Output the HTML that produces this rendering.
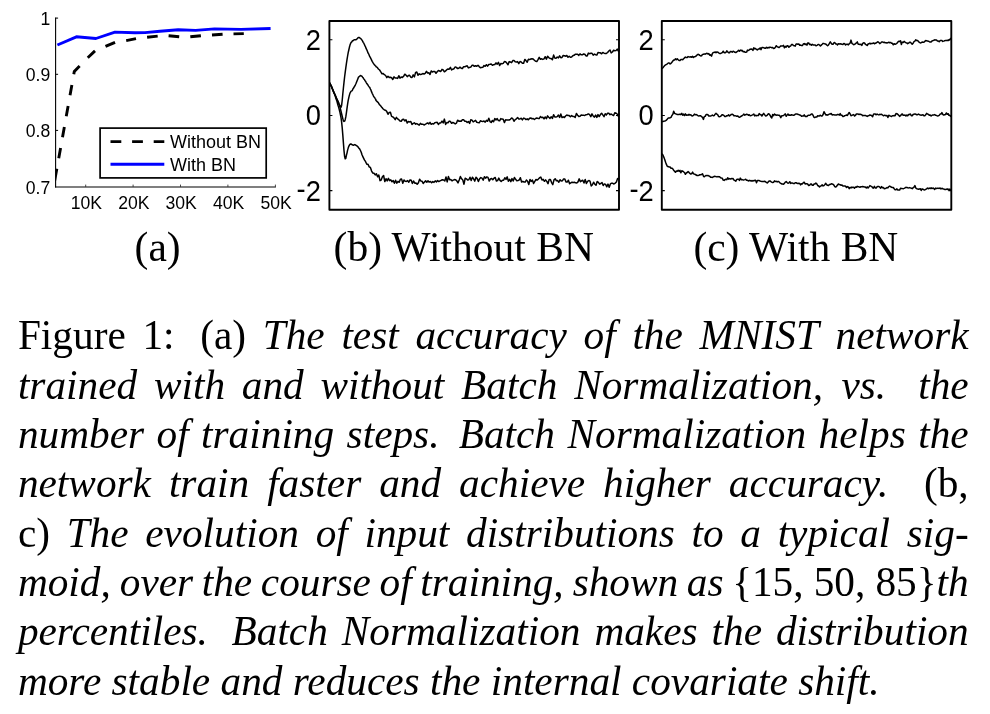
<!DOCTYPE html><html><head><meta charset="utf-8"><title>Figure 1</title><style>
html,body{margin:0;padding:0;background:#fff;}
body{width:990px;height:714px;position:relative;overflow:hidden;}
#fig{position:absolute;left:0;top:0;width:990px;height:714px;will-change:transform;}
.ln{position:absolute;left:17.9px;height:49px;font-family:'Liberation Serif', 'Times New Roman', Times, serif;font-size:41.3px;line-height:49px;color:#000;white-space:nowrap;transform-origin:0 38.6px;transform:scaleY(1.03);}.ln b{display:inline-block;height:1px;overflow:hidden;white-space:pre;font-weight:normal;vertical-align:baseline;}.ln span,.ln i{display:inline-block;}.m{font-style:normal;word-spacing:-0.005em;}
</style></head><body>
<div id="fig">
<svg width="990" height="290" viewBox="0 0 990 290" style="position:absolute;left:0;top:0">
<g fill="none" stroke="#000">
<path d="M55.6,17.6 V187.5" stroke-width="1.1"/>
<path d="M55.1,187.0 H275.9" stroke-width="1.1"/>
<path d="M55.6,18.1 h2.5" stroke-width="1.0"/>
<path d="M55.6,74.3 h2.5" stroke-width="1.0"/>
<path d="M55.6,130.4 h2.5" stroke-width="1.0"/>
<path d="M85.7,187.0 v-2.4" stroke-width="0.9" stroke="#333"/>
<path d="M133.1,187.0 v-2.4" stroke-width="0.9" stroke="#333"/>
<path d="M180.5,187.0 v-2.4" stroke-width="0.9" stroke="#333"/>
<path d="M227.9,187.0 v-2.4" stroke-width="0.9" stroke="#333"/>
<path d="M275.4,187.0 v-2.4" stroke-width="0.9" stroke="#333"/>
</g>
<clipPath id="ca"><rect x="55.4" y="10" width="230" height="177"/></clipPath>
<path d="M54.72,180.60 L56.83,168.84 M58.74,158.20 L60.59,147.90 M62.51,137.20 L64.36,126.90 M66.26,116.30 L68.13,105.90 M70.03,95.30 L71.88,84.96 M73.79,74.35 L74.3,71.5 L79.64,66.1 M87.75,57.75 L95.00,50.90 M105.50,46.40 L115.05,42.30 M126.20,40.65 L136.00,38.65 M147.10,37.30 L157.70,36.10 M168.60,35.75 L179.20,36.70 M190.30,36.80 L200.90,35.75 M212.00,35.00 L222.60,34.20 M233.50,33.90 L243.80,33.60" fill="none" stroke="#000" stroke-width="2.9" stroke-linejoin="miter" clip-path="url(#ca)"/>
<polyline points="57.4,45.0 76.4,36.8 95.9,38.5 115.0,32.1 135.0,32.7 145.0,32.6 160.0,31.3 178.2,29.7 195.6,30.4 214.5,28.9 241.0,29.4 270.6,28.5" fill="none" stroke="#0000ff" stroke-width="2.9" stroke-linejoin="round"/>
<rect x="100.1" y="128.1" width="166.1" height="49.8" fill="#fff" stroke="#000" stroke-width="1.7"/>
<path d="M110.5,141.65 h10.8 m10.8,0 h10.8 m10.8,0 h10.6" stroke="#000" stroke-width="2.9" fill="none"/>
<path d="M110.5,164.3 H164.3" stroke="#0000ff" stroke-width="2.9" fill="none"/>
<g font-family="'Liberation Sans', Arial, Helvetica, sans-serif" font-size="18" fill="#000">
<text transform="translate(170.0,147.9) scale(1,1.02)">Without BN</text>
<text transform="translate(170.0,170.5) scale(1,1.02)">With BN</text>
</g>
<g font-family="'Liberation Sans', Arial, Helvetica, sans-serif" font-size="17.6" fill="#000" text-anchor="end">
<text transform="translate(50.2,24.9) scale(1,1.035)">1</text>
<text transform="translate(50.2,80.9) scale(1,1.035)">0.9</text>
<text transform="translate(50.2,137.0) scale(1,1.035)">0.8</text>
<text transform="translate(50.2,193.6) scale(1,1.035)">0.7</text>
</g>
<g font-family="'Liberation Sans', Arial, Helvetica, sans-serif" font-size="17.6" fill="#000" text-anchor="middle">
<text transform="translate(86.4,208.7) scale(1,1.035)">10K</text>
<text transform="translate(133.8,208.7) scale(1,1.035)">20K</text>
<text transform="translate(181.20000000000002,208.7) scale(1,1.035)">30K</text>
<text transform="translate(228.6,208.7) scale(1,1.035)">40K</text>
<text transform="translate(276.09999999999997,208.7) scale(1,1.035)">50K</text>
</g>
<rect x="329.4" y="21.0" width="289.6" height="188.7" fill="none" stroke="#000" stroke-width="1.9" stroke-linejoin="round"/>
<g stroke="#000" stroke-width="1.1" fill="none">
<path d="M329.4,39.7 h3.0 M619.0,39.7 h-3.0"/>
<path d="M329.4,115.5 h3.0 M619.0,115.5 h-3.0"/>
<path d="M329.4,190.6 h3.0 M619.0,190.6 h-3.0"/>
</g>
<polyline points="329.6,83.2 330.2,83.7 330.8,85.0 331.4,86.1 332.0,87.9 332.6,89.2 333.2,90.6 333.8,92.1 334.4,93.6 335.0,94.7 335.6,96.1 336.2,97.5 336.8,98.9 337.4,100.2 338.0,101.3 338.6,102.6 339.2,104.1 339.8,105.5 340.4,106.5 341.0,107.2 341.6,105.4 342.2,100.5 342.8,94.0 343.4,88.0 344.0,82.3 344.6,77.0 345.2,72.4 345.8,67.8 346.4,63.7 347.0,59.7 347.6,56.0 348.2,52.7 348.8,50.0 349.4,47.3 350.0,45.1 350.6,43.4 351.2,42.4 351.8,41.9 352.4,40.8 353.0,40.7 353.6,40.1 354.2,39.8 354.8,39.8 355.4,39.7 356.0,39.7 356.6,39.1 357.2,38.8 357.8,38.1 358.4,37.4 359.0,37.4 359.6,37.9 360.2,38.2 360.8,38.7 361.4,39.3 362.0,40.2 362.6,41.1 363.2,42.3 363.8,43.2 364.4,44.5 365.0,45.9 365.6,47.0 366.2,48.7 366.8,49.8 367.4,51.2 368.0,52.9 368.6,53.8 369.2,55.2 369.8,56.7 370.4,57.6 371.0,58.8 371.6,60.2 372.2,61.4 372.8,62.4 373.4,63.3 374.0,64.2 374.6,64.9 375.2,65.6 375.8,66.0 376.0,66.7 377.2,67.4 378.4,69.0 379.6,70.0 380.8,71.8 382.0,73.8 383.2,73.6 384.4,74.7 385.6,75.5 386.8,77.6 388.0,76.2 389.2,77.4 390.4,77.3 391.6,77.8 392.8,79.5 394.0,76.9 395.2,78.0 396.4,78.0 397.6,78.4 398.8,75.7 400.0,78.1 401.2,77.1 402.4,77.4 403.6,76.3 404.8,74.2 406.0,75.1 407.2,76.6 408.4,75.6 409.6,75.3 410.8,77.2 412.0,77.5 413.2,74.9 414.4,76.9 415.6,72.4 416.8,72.1 418.0,75.2 419.2,73.8 420.4,74.6 421.6,74.3 422.8,73.5 424.0,74.1 425.2,73.3 426.4,71.3 427.6,73.0 428.8,72.8 430.0,74.5 431.2,70.9 432.4,72.0 433.6,71.4 434.8,71.5 436.0,73.3 437.2,71.7 438.4,70.5 439.6,71.0 440.8,71.5 442.0,69.4 443.2,70.0 444.4,71.8 445.6,70.9 446.8,69.7 448.0,69.0 449.2,69.2 450.4,67.4 451.6,70.0 452.8,69.2 454.0,68.7 455.2,66.9 456.4,67.4 457.6,68.6 458.8,68.2 460.0,67.2 461.2,68.2 462.4,68.6 463.6,66.7 464.8,66.7 466.0,66.2 467.2,65.8 468.4,67.9 469.6,67.4 470.8,67.1 472.0,65.3 473.2,65.3 474.4,66.3 475.6,65.8 476.8,66.3 478.0,65.2 479.2,66.6 480.4,67.8 481.6,67.4 482.8,67.3 484.0,65.5 485.2,66.3 486.4,64.7 487.6,66.1 488.8,64.5 490.0,64.3 491.2,64.0 492.4,65.3 493.6,64.7 494.8,64.5 496.0,62.9 497.2,64.2 498.4,62.3 499.6,65.5 500.8,63.6 502.0,63.8 503.2,63.4 504.4,61.6 505.6,61.7 506.8,63.1 508.0,64.7 509.2,61.6 510.4,62.0 511.6,62.6 512.8,60.6 514.0,60.5 515.2,61.8 516.4,62.1 517.6,61.6 518.8,63.6 520.0,61.5 521.2,62.0 522.4,63.2 523.6,63.2 524.8,59.4 526.0,60.6 527.2,62.2 528.4,59.2 529.6,59.6 530.8,59.0 532.0,58.8 533.2,58.9 534.4,60.2 535.6,61.3 536.8,61.5 538.0,59.6 539.2,57.3 540.4,59.3 541.6,58.8 542.8,59.4 544.0,58.8 545.2,56.7 546.4,59.1 547.6,56.2 548.8,57.6 550.0,58.5 551.2,58.4 552.4,59.7 553.6,55.1 554.8,58.0 556.0,58.3 557.2,57.0 558.4,57.9 559.6,55.8 560.8,57.7 562.0,57.4 563.2,55.5 564.4,55.8 565.6,56.2 566.8,55.5 568.0,57.3 569.2,56.2 570.4,57.3 571.6,57.0 572.8,55.7 574.0,55.3 575.2,54.3 576.4,54.3 577.6,54.2 578.8,55.4 580.0,53.9 581.2,54.8 582.4,54.8 583.6,53.9 584.8,54.2 586.0,55.9 587.2,55.9 588.4,53.1 589.6,53.7 590.8,53.3 592.0,53.3 593.2,55.2 594.4,54.1 595.6,54.7 596.8,55.1 598.0,52.5 599.2,52.7 600.4,52.8 601.6,53.8 602.8,52.4 604.0,53.1 605.2,53.6 606.4,53.4 607.6,52.5 608.8,51.0 610.0,50.0 611.2,52.9 612.4,52.0 613.6,50.3 614.8,50.7 616.0,50.6 617.2,49.1 618.4,51.2 618.9,49.9" fill="none" stroke="#000" stroke-width="1.5" stroke-linejoin="round"/>
<polyline points="329.6,82.9 330.2,83.9 330.8,85.1 331.4,86.5 332.0,87.9 332.6,89.3 333.2,90.7 333.8,92.3 334.4,93.5 335.0,95.1 335.6,96.2 336.2,97.8 336.8,99.1 337.4,100.4 338.0,101.6 338.6,103.5 339.2,104.6 339.8,106.5 340.4,108.8 341.0,111.3 341.6,113.8 342.2,116.3 342.8,118.6 343.4,120.9 344.0,121.4 344.6,121.1 345.2,119.7 345.8,116.9 346.4,112.8 347.0,108.4 347.6,104.2 348.2,100.4 348.8,97.6 349.4,95.1 350.0,93.1 350.6,92.0 351.2,91.1 351.8,90.9 352.4,90.2 353.0,88.8 353.6,88.1 354.2,86.9 354.8,86.0 355.4,84.8 356.0,83.5 356.6,82.0 357.2,80.5 357.8,78.9 358.4,77.4 359.0,76.8 359.6,76.2 360.2,75.8 360.8,75.5 361.4,76.1 362.0,76.3 362.6,77.2 363.2,77.8 363.8,79.0 364.4,79.5 365.0,80.7 365.6,81.3 366.2,82.5 366.8,83.6 367.4,84.1 368.0,85.1 368.6,86.1 369.2,86.9 369.8,87.6 370.4,89.0 371.0,90.2 371.6,91.9 372.2,93.3 372.8,94.5 373.4,95.8 374.0,97.0 374.6,97.5 375.2,98.6 375.8,99.5 376.0,100.5 377.2,101.6 378.4,102.8 379.6,104.8 380.8,106.0 382.0,107.6 383.2,109.0 384.4,109.9 385.6,110.2 386.8,111.6 388.0,114.3 389.2,112.4 390.4,112.2 391.6,116.4 392.8,116.9 394.0,117.9 395.2,119.6 396.4,117.4 397.6,118.9 398.8,119.7 400.0,121.0 401.2,121.2 402.4,119.5 403.6,119.3 404.8,120.9 406.0,119.7 407.2,123.0 408.4,121.6 409.6,121.9 410.8,121.5 412.0,124.5 413.2,123.4 414.4,122.8 415.6,124.2 416.8,123.6 418.0,124.4 419.2,125.2 420.4,123.4 421.6,124.3 422.8,124.2 424.0,125.0 425.2,124.3 426.4,123.7 427.6,122.9 428.8,123.9 430.0,122.4 431.2,124.3 432.4,123.6 433.6,124.1 434.8,122.8 436.0,122.4 437.2,122.3 438.4,124.5 439.6,122.9 440.8,122.9 442.0,121.1 443.2,122.9 444.4,119.1 445.6,124.4 446.8,122.6 448.0,122.8 449.2,121.1 450.4,121.5 451.6,123.3 452.8,122.4 454.0,123.0 455.2,123.9 456.4,123.2 457.6,120.2 458.8,121.2 460.0,121.0 461.2,121.2 462.4,119.8 463.6,119.8 464.8,121.2 466.0,121.3 467.2,122.5 468.4,121.5 469.6,123.4 470.8,119.7 472.0,120.1 473.2,121.9 474.4,121.2 475.6,120.4 476.8,122.3 478.0,122.6 479.2,122.8 480.4,120.8 481.6,121.2 482.8,121.4 484.0,121.1 485.2,122.1 486.4,120.4 487.6,121.3 488.8,118.3 490.0,121.6 491.2,122.5 492.4,120.5 493.6,121.7 494.8,118.6 496.0,120.0 497.2,118.6 498.4,120.6 499.6,120.8 500.8,118.6 502.0,119.1 503.2,119.3 504.4,122.6 505.6,119.7 506.8,119.9 508.0,120.1 509.2,120.0 510.4,119.3 511.6,118.0 512.8,118.7 514.0,121.2 515.2,119.6 516.4,118.8 517.6,117.6 518.8,119.0 520.0,119.0 521.2,118.2 522.4,119.9 523.6,118.1 524.8,118.5 526.0,119.6 527.2,118.8 528.4,119.8 529.6,118.2 530.8,117.9 532.0,118.8 533.2,118.5 534.4,119.5 535.6,118.5 536.8,118.0 538.0,118.4 539.2,118.6 540.4,116.5 541.6,117.6 542.8,117.3 544.0,118.9 545.2,117.0 546.4,118.6 547.6,115.9 548.8,117.2 550.0,118.4 551.2,116.8 552.4,118.4 553.6,114.7 554.8,117.0 556.0,117.0 557.2,116.6 558.4,115.0 559.6,117.4 560.8,114.0 562.0,117.6 563.2,116.8 564.4,117.5 565.6,116.0 566.8,115.0 568.0,115.6 569.2,115.6 570.4,116.7 571.6,115.6 572.8,116.4 574.0,116.4 575.2,117.4 576.4,113.5 577.6,115.2 578.8,116.4 580.0,116.3 581.2,114.9 582.4,115.2 583.6,115.3 584.8,115.5 586.0,114.7 587.2,114.5 588.4,113.9 589.6,114.7 590.8,116.6 592.0,113.9 593.2,116.0 594.4,117.1 595.6,115.1 596.8,117.4 598.0,114.6 599.2,116.5 600.4,114.6 601.6,113.2 602.8,114.9 604.0,116.6 605.2,113.8 606.4,114.9 607.6,113.2 608.8,113.3 610.0,114.7 611.2,114.0 612.4,114.8 613.6,115.5 614.8,112.7 616.0,113.2 617.2,114.0 618.4,116.5 618.9,113.5" fill="none" stroke="#000" stroke-width="1.5" stroke-linejoin="round"/>
<polyline points="329.6,82.8 330.2,83.9 330.8,85.5 331.4,86.4 332.0,88.0 332.6,89.5 333.2,91.0 333.8,92.8 334.4,93.6 335.0,95.1 335.6,97.2 336.2,99.2 336.8,100.7 337.4,103.0 338.0,105.3 338.6,107.1 339.2,109.4 339.8,111.7 340.4,114.5 341.0,117.5 341.6,121.8 342.2,127.7 342.8,134.9 343.4,142.9 344.0,150.6 344.6,156.3 345.2,158.8 345.8,158.3 346.4,155.3 347.0,153.1 347.6,150.1 348.2,148.1 348.8,146.3 349.4,145.1 350.0,144.3 350.6,144.0 351.2,144.0 351.8,144.6 352.4,144.8 353.0,145.2 353.6,145.2 354.2,144.8 354.8,144.6 355.4,144.9 356.0,145.3 356.6,145.7 357.2,146.2 357.8,146.6 358.4,147.5 359.0,148.3 359.6,148.9 360.2,150.0 360.8,151.3 361.4,152.7 362.0,154.8 363.2,157.4 364.4,159.9 365.6,161.7 366.8,164.3 368.0,164.2 369.2,166.9 370.4,167.5 371.6,171.1 372.8,173.0 374.0,173.3 375.2,174.9 376.4,173.7 377.6,176.8 378.8,175.0 380.0,180.7 381.2,180.0 382.4,176.7 383.6,175.5 384.8,181.6 386.0,178.7 387.2,180.9 388.4,178.4 389.6,180.6 390.8,179.8 392.0,181.8 393.2,180.6 394.4,183.3 395.6,180.2 396.8,183.2 398.0,181.4 399.2,182.3 400.4,179.3 401.6,179.1 402.8,183.3 404.0,180.0 405.2,181.3 406.4,181.4 407.6,180.6 408.8,182.2 410.0,179.9 411.2,180.3 412.4,183.4 413.6,181.0 414.8,183.2 416.0,183.1 417.2,184.3 418.4,182.7 419.6,179.3 420.8,180.9 422.0,181.2 423.2,183.5 424.4,182.1 425.6,180.9 426.8,182.1 428.0,180.9 429.2,182.1 430.4,181.5 431.6,182.8 432.8,181.6 434.0,182.4 435.2,180.9 436.4,181.9 437.6,180.5 438.8,181.6 440.0,180.9 441.2,180.3 442.4,179.8 443.6,180.0 444.8,181.0 446.0,176.9 447.2,181.9 448.4,176.6 449.6,179.7 450.8,179.4 452.0,180.9 453.2,180.1 454.4,179.6 455.6,179.7 456.8,180.9 458.0,182.9 459.2,180.0 460.4,176.5 461.6,178.8 462.8,180.0 464.0,184.2 465.2,178.2 466.4,178.8 467.6,180.1 468.8,179.8 470.0,177.3 471.2,180.6 472.4,177.3 473.6,178.8 474.8,181.1 476.0,177.2 477.2,178.6 478.4,181.5 479.6,178.7 480.8,177.6 482.0,178.2 483.2,180.2 484.4,176.7 485.6,178.1 486.8,176.9 488.0,177.4 489.2,181.0 490.4,179.0 491.6,178.5 492.8,179.8 494.0,178.2 495.2,177.5 496.4,181.0 497.6,180.6 498.8,178.1 500.0,180.4 501.2,181.5 502.4,180.2 503.6,180.2 504.8,177.7 506.0,179.4 507.2,176.9 508.4,181.2 509.6,179.4 510.8,181.6 512.0,178.6 513.2,181.0 514.4,177.5 515.6,179.3 516.8,180.7 518.0,180.5 519.2,180.0 520.4,177.7 521.6,182.1 522.8,181.3 524.0,182.0 525.2,182.1 526.4,180.0 527.6,181.2 528.8,184.5 530.0,179.5 531.2,181.4 532.4,180.1 533.6,183.5 534.8,181.3 536.0,179.5 537.2,180.1 538.4,179.0 539.6,177.7 540.8,177.1 542.0,180.0 543.2,179.4 544.4,181.3 545.6,179.9 546.8,181.4 548.0,183.7 549.2,179.4 550.4,179.4 551.6,182.6 552.8,184.6 554.0,179.9 555.2,178.7 556.4,180.8 557.6,180.6 558.8,182.3 560.0,179.7 561.2,180.9 562.4,180.8 563.6,178.9 564.8,179.0 566.0,181.9 567.2,182.1 568.4,180.2 569.6,183.7 570.8,182.9 572.0,182.2 573.2,182.5 574.4,182.2 575.6,182.8 576.8,183.0 578.0,181.9 579.2,178.9 580.4,181.7 581.6,180.8 582.8,180.3 584.0,183.0 585.2,179.5 586.4,183.5 587.6,181.3 588.8,180.5 590.0,181.1 591.2,185.9 592.4,184.7 593.6,182.2 594.8,184.2 596.0,185.3 597.2,181.5 598.4,182.4 599.6,184.2 600.8,183.5 602.0,182.5 603.2,185.5 604.4,183.9 605.6,184.4 606.8,186.8 608.0,184.1 609.2,187.3 610.4,183.9 611.6,183.2 612.8,183.3 614.0,184.0 615.2,183.1 616.4,182.0 617.6,178.6 618.8,178.7 618.9,179.6" fill="none" stroke="#000" stroke-width="1.5" stroke-linejoin="round"/>
<g font-family="'Liberation Sans', Arial, Helvetica, sans-serif" font-size="27.3" fill="#000" text-anchor="end">
<text transform="translate(320.9,49.7) scale(1,1.055)">2</text>
<text transform="translate(320.9,125.2) scale(1,1.055)">0</text>
<text transform="translate(320.9,200.7) scale(1,1.055)"><tspan dy="-1.5">-</tspan><tspan dy="1.5">2</tspan></text>
</g>
<rect x="661.8" y="21.0" width="289.5" height="188.7" fill="none" stroke="#000" stroke-width="1.9" stroke-linejoin="round"/>
<g stroke="#000" stroke-width="1.1" fill="none">
<path d="M661.8,39.7 h3.0 M951.3,39.7 h-3.0"/>
<path d="M661.8,115.5 h3.0 M951.3,115.5 h-3.0"/>
<path d="M661.8,190.6 h3.0 M951.3,190.6 h-3.0"/>
</g>
<polyline points="662.0,68.7 662.9,67.8 663.8,66.6 664.7,65.5 665.6,64.8 666.5,64.3 667.4,63.8 668.3,63.0 669.2,62.9 670.1,64.0 671.0,63.3 671.9,62.2 672.8,61.0 673.7,60.1 674.6,60.1 675.5,58.8 676.4,59.6 677.3,58.9 678.2,59.8 679.1,60.4 680.0,60.6 680.9,59.6 681.8,59.4 682.7,59.7 683.6,58.7 684.5,57.9 685.4,57.0 686.3,57.6 687.2,57.5 688.1,56.6 689.0,56.9 689.9,56.9 690.8,56.8 691.7,57.2 692.6,56.4 693.5,57.4 694.4,56.7 695.3,56.6 696.2,55.9 697.1,54.9 698.0,54.3 698.9,54.6 699.8,55.4 700.7,55.9 701.6,55.7 702.5,54.4 703.4,54.3 704.3,53.9 705.2,54.2 706.1,53.6 707.0,53.2 707.9,54.0 708.8,53.6 709.7,55.2 710.6,54.8 711.5,56.2 712.4,53.5 713.3,52.4 714.2,52.5 715.1,51.9 716.0,52.7 716.9,51.9 717.8,52.2 718.7,52.9 719.6,53.5 720.5,53.6 721.4,53.0 722.3,52.6 723.2,51.2 724.1,52.5 725.0,52.9 725.9,52.4 726.8,50.8 727.7,51.9 728.6,52.7 729.5,52.7 730.4,51.5 731.3,51.5 732.2,52.3 733.1,51.2 734.0,51.7 734.9,52.3 735.8,52.6 736.7,51.9 737.6,51.4 738.5,50.3 739.4,51.2 740.3,50.1 741.2,50.7 742.1,50.3 743.0,51.7 743.9,51.5 744.8,52.0 745.7,52.3 746.6,52.1 747.5,50.1 748.4,50.5 749.3,49.9 750.2,49.2 751.1,49.0 752.0,49.3 752.9,50.4 753.8,47.8 754.7,48.9 755.6,48.5 756.5,49.6 757.4,49.9 758.3,49.0 759.2,49.0 760.1,47.9 761.0,49.6 761.9,47.5 762.8,47.5 763.7,47.7 764.6,48.2 765.5,48.3 766.4,47.4 767.3,48.1 768.2,47.4 769.1,47.8 770.0,47.1 770.9,47.4 771.8,47.7 772.7,47.4 773.6,48.4 774.5,48.2 775.4,47.2 776.3,45.7 777.2,46.7 778.1,47.0 779.0,47.6 779.9,46.8 780.8,45.9 781.7,46.0 782.6,46.0 783.5,45.4 784.4,47.8 785.3,46.4 786.2,47.1 787.1,45.8 788.0,45.8 788.9,47.3 789.8,46.3 790.7,46.0 791.6,44.4 792.5,44.6 793.4,45.6 794.3,45.7 795.2,46.2 796.1,43.9 797.0,44.0 797.9,44.3 798.8,43.9 799.7,45.2 800.6,45.1 801.5,45.6 802.4,45.6 803.3,44.0 804.2,43.6 805.1,44.5 806.0,44.0 806.9,45.1 807.8,42.9 808.7,42.9 809.6,44.6 810.5,44.3 811.4,45.3 812.3,44.3 813.2,44.9 814.1,44.9 815.0,44.9 815.9,45.7 816.8,45.5 817.7,44.8 818.6,44.4 819.5,45.0 820.4,46.0 821.3,45.1 822.2,44.3 823.1,43.4 824.0,43.6 824.9,43.9 825.8,44.1 826.7,45.0 827.6,45.7 828.5,44.9 829.4,43.4 830.3,41.8 831.2,43.2 832.1,44.3 833.0,44.3 833.9,42.8 834.8,42.6 835.7,43.9 836.6,44.0 837.5,44.9 838.4,43.7 839.3,44.0 840.2,43.8 841.1,44.0 842.0,44.3 842.9,44.4 843.8,43.5 844.7,43.8 845.6,45.0 846.5,44.2 847.4,44.2 848.3,44.9 849.2,43.8 850.1,43.1 851.0,40.1 851.9,43.3 852.8,44.0 853.7,44.7 854.6,44.4 855.5,43.7 856.4,42.9 857.3,41.9 858.2,44.3 859.1,44.3 860.0,44.6 860.9,44.2 861.8,45.4 862.7,43.4 863.6,42.8 864.5,43.0 865.4,44.3 866.3,44.8 867.2,45.5 868.1,44.0 869.0,43.8 869.9,43.2 870.8,43.9 871.7,43.4 872.6,43.4 873.5,42.9 874.4,43.7 875.3,43.3 876.2,43.0 877.1,42.2 878.0,41.8 878.9,42.5 879.8,43.6 880.7,43.0 881.6,41.9 882.5,41.9 883.4,42.4 884.3,42.3 885.2,42.7 886.1,42.7 887.0,43.0 887.9,42.6 888.8,42.3 889.7,42.7 890.6,42.4 891.5,43.2 892.4,43.3 893.3,44.8 894.2,43.7 895.1,44.3 896.0,43.8 896.9,43.3 897.8,42.1 898.7,41.3 899.6,41.6 900.5,40.8 901.4,44.5 902.3,42.1 903.2,42.4 904.1,41.4 905.0,42.1 905.9,42.7 906.8,42.9 907.7,43.7 908.6,43.2 909.5,42.3 910.4,42.3 911.3,43.2 912.2,44.2 913.1,43.2 914.0,41.6 914.9,41.1 915.8,39.8 916.7,40.6 917.6,40.5 918.5,41.5 919.4,42.4 920.3,42.9 921.2,42.8 922.1,42.0 923.0,42.2 923.9,42.2 924.8,41.4 925.7,40.6 926.6,40.7 927.5,41.1 928.4,41.2 929.3,41.7 930.2,42.0 931.1,41.9 932.0,41.0 932.9,40.6 933.8,40.3 934.7,39.8 935.6,40.1 936.5,39.9 937.4,40.9 938.3,41.0 939.2,41.8 940.1,40.6 941.0,40.6 941.9,40.4 942.8,41.4 943.7,41.1 944.6,40.7 945.5,40.4 946.4,40.5 947.3,40.3 948.2,40.5 949.1,40.0 950.0,39.2 950.9,38.0" fill="none" stroke="#000" stroke-width="1.5" stroke-linejoin="round"/>
<polyline points="662.0,121.7 662.9,121.4 663.8,121.2 664.7,121.0 665.6,120.7 666.5,120.1 667.4,119.0 668.3,117.9 669.2,118.1 670.1,117.8 671.0,117.4 671.9,115.5 672.8,114.4 673.7,111.2 674.6,113.4 675.5,113.8 676.4,114.1 677.3,114.5 678.2,114.4 679.1,114.5 680.0,114.1 680.9,114.7 681.8,113.3 682.7,115.2 683.6,114.1 684.5,115.5 685.4,113.8 686.3,115.3 687.2,114.9 688.1,115.3 689.0,114.4 689.9,115.1 690.8,114.7 691.7,115.7 692.6,115.9 693.5,115.4 694.4,114.1 695.3,114.8 696.2,114.6 697.1,115.0 698.0,115.8 698.9,115.9 699.8,115.8 700.7,115.7 701.6,116.7 702.5,117.3 703.4,119.4 704.3,116.6 705.2,116.3 706.1,114.5 707.0,114.5 707.9,114.7 708.8,116.0 709.7,116.1 710.6,116.0 711.5,115.6 712.4,115.0 713.3,115.8 714.2,115.6 715.1,114.2 716.0,113.4 716.9,114.2 717.8,114.9 718.7,116.6 719.6,116.7 720.5,116.4 721.4,115.4 722.3,114.7 723.2,115.0 724.1,115.7 725.0,116.6 725.9,116.4 726.8,115.7 727.7,115.8 728.6,114.8 729.5,116.0 730.4,115.2 731.3,114.4 732.2,114.2 733.1,114.6 734.0,115.9 734.9,115.6 735.8,115.9 736.7,116.3 737.6,115.9 738.5,116.8 739.4,117.2 740.3,116.9 741.2,116.2 742.1,115.8 743.0,115.0 743.9,114.1 744.8,115.2 745.7,114.6 746.6,114.3 747.5,114.5 748.4,115.2 749.3,114.8 750.2,115.7 751.1,115.5 752.0,115.1 752.9,114.6 753.8,114.0 754.7,115.9 755.6,115.3 756.5,115.7 757.4,115.4 758.3,115.6 759.2,113.6 760.1,114.5 761.0,114.8 761.9,116.0 762.8,114.5 763.7,113.4 764.6,114.6 765.5,115.9 766.4,115.8 767.3,115.2 768.2,113.8 769.1,114.0 770.0,115.2 770.9,116.9 771.8,117.9 772.7,114.5 773.6,115.6 774.5,114.0 775.4,114.8 776.3,115.2 777.2,114.9 778.1,115.2 779.0,115.2 779.9,115.9 780.8,117.6 781.7,115.7 782.6,115.7 783.5,115.5 784.4,114.7 785.3,113.9 786.2,116.2 787.1,115.1 788.0,114.0 788.9,115.2 789.8,115.0 790.7,115.2 791.6,114.8 792.5,115.1 793.4,115.3 794.3,115.1 795.2,114.2 796.1,113.9 797.0,113.9 797.9,114.4 798.8,114.5 799.7,115.1 800.6,115.3 801.5,116.2 802.4,116.0 803.3,116.0 804.2,114.9 805.1,116.5 806.0,116.3 806.9,116.6 807.8,115.5 808.7,115.3 809.6,115.2 810.5,114.9 811.4,114.0 812.3,114.0 813.2,115.7 814.1,117.5 815.0,117.5 815.9,116.9 816.8,117.0 817.7,115.7 818.6,116.0 819.5,115.9 820.4,115.2 821.3,116.0 822.2,115.9 823.1,114.5 824.0,111.7 824.9,113.3 825.8,115.0 826.7,114.7 827.6,115.2 828.5,114.7 829.4,114.0 830.3,114.0 831.2,113.5 832.1,114.9 833.0,114.7 833.9,114.8 834.8,114.9 835.7,115.0 836.6,115.1 837.5,114.4 838.4,114.5 839.3,115.1 840.2,113.6 841.1,115.3 842.0,115.3 842.9,116.6 843.8,116.3 844.7,115.7 845.6,115.4 846.5,115.0 847.4,115.5 848.3,113.8 849.2,112.5 850.1,113.9 851.0,115.7 851.9,115.4 852.8,114.9 853.7,114.6 854.6,116.0 855.5,115.3 856.4,114.0 857.3,113.9 858.2,114.1 859.1,114.6 860.0,114.0 860.9,114.6 861.8,114.8 862.7,115.7 863.6,115.4 864.5,115.5 865.4,115.5 866.3,115.9 867.2,116.4 868.1,115.8 869.0,115.5 869.9,115.0 870.8,115.2 871.7,115.7 872.6,116.7 873.5,114.3 874.4,113.9 875.3,114.1 876.2,114.8 877.1,114.0 878.0,114.6 878.9,114.9 879.8,114.3 880.7,114.4 881.6,114.3 882.5,115.0 883.4,115.8 884.3,115.3 885.2,115.3 886.1,115.8 887.0,115.5 887.9,117.5 888.8,115.2 889.7,115.8 890.6,116.1 891.5,116.5 892.4,115.7 893.3,115.7 894.2,115.5 895.1,115.8 896.0,113.6 896.9,113.7 897.8,114.4 898.7,115.3 899.6,116.4 900.5,115.7 901.4,114.5 902.3,114.0 903.2,115.3 904.1,115.2 905.0,115.1 905.9,116.0 906.8,115.1 907.7,115.8 908.6,114.5 909.5,114.5 910.4,114.0 911.3,115.7 912.2,115.7 913.1,114.5 914.0,114.2 914.9,113.9 915.8,114.3 916.7,114.7 917.6,114.7 918.5,114.1 919.4,114.6 920.3,115.1 921.2,115.3 922.1,114.9 923.0,114.7 923.9,115.7 924.8,115.7 925.7,114.8 926.6,113.4 927.5,114.0 928.4,114.4 929.3,115.3 930.2,115.0 931.1,116.0 932.0,115.2 932.9,114.9 933.8,114.9 934.7,114.6 935.6,115.3 936.5,115.4 937.4,116.0 938.3,115.8 939.2,115.4 940.1,114.1 941.0,114.1 941.9,112.6 942.8,114.4 943.7,115.1 944.6,114.7 945.5,114.5 946.4,113.0 947.3,114.2 948.2,113.8 949.1,115.1 950.0,115.5 950.9,116.9" fill="none" stroke="#000" stroke-width="1.5" stroke-linejoin="round"/>
<polyline points="662.0,153.8 662.9,155.0 663.8,157.1 664.7,159.5 665.6,162.3 666.5,164.7 667.4,166.5 668.3,166.6 669.2,167.0 670.1,167.0 671.0,168.2 671.9,168.2 672.8,168.9 673.7,170.2 674.6,171.4 675.5,172.3 676.4,171.0 677.3,171.2 678.2,170.2 679.1,171.4 680.0,170.4 680.9,172.8 681.8,170.8 682.7,171.2 683.6,171.9 684.5,172.5 685.4,174.3 686.3,173.0 687.2,172.5 688.1,171.6 689.0,172.4 689.9,173.4 690.8,174.1 691.7,173.6 692.6,172.1 693.5,173.8 694.4,174.1 695.3,174.5 696.2,175.0 697.1,175.5 698.0,175.4 698.9,175.2 699.8,174.8 700.7,174.8 701.6,174.5 702.5,173.8 703.4,176.1 704.3,176.8 705.2,176.0 706.1,175.4 707.0,175.7 707.9,175.4 708.8,176.0 709.7,176.2 710.6,177.3 711.5,177.3 712.4,177.4 713.3,176.8 714.2,176.3 715.1,176.4 716.0,176.6 716.9,176.9 717.8,176.6 718.7,176.7 719.6,176.8 720.5,177.8 721.4,178.1 722.3,178.3 723.2,180.1 724.1,180.4 725.0,179.6 725.9,179.2 726.8,179.7 727.7,177.8 728.6,179.1 729.5,178.6 730.4,179.0 731.3,178.6 732.2,178.8 733.1,178.5 734.0,180.1 734.9,180.5 735.8,181.2 736.7,179.5 737.6,179.2 738.5,179.3 739.4,180.4 740.3,178.1 741.2,179.7 742.1,179.6 743.0,179.9 743.9,179.9 744.8,179.6 745.7,179.2 746.6,180.2 747.5,180.3 748.4,181.0 749.3,180.3 750.2,180.9 751.1,180.5 752.0,181.2 752.9,180.5 753.8,180.9 754.7,180.3 755.6,180.3 756.5,182.8 757.4,180.4 758.3,180.6 759.2,180.6 760.1,181.0 761.0,181.3 761.9,181.4 762.8,181.5 763.7,181.6 764.6,181.3 765.5,181.7 766.4,182.5 767.3,182.9 768.2,181.9 769.1,181.1 770.0,180.9 770.9,181.6 771.8,182.2 772.7,182.5 773.6,182.2 774.5,180.9 775.4,181.5 776.3,181.3 777.2,181.9 778.1,181.3 779.0,181.8 779.9,182.8 780.8,183.3 781.7,183.9 782.6,184.1 783.5,184.3 784.4,183.4 785.3,182.1 786.2,181.6 787.1,182.5 788.0,183.3 788.9,182.9 789.8,181.7 790.7,183.5 791.6,182.9 792.5,183.0 793.4,183.6 794.3,183.6 795.2,182.8 796.1,182.8 797.0,183.2 797.9,183.6 798.8,183.2 799.7,183.4 800.6,184.9 801.5,183.7 802.4,183.9 803.3,182.7 804.2,182.2 805.1,183.9 806.0,183.7 806.9,183.8 807.8,184.2 808.7,185.5 809.6,185.3 810.5,184.1 811.4,184.0 812.3,185.2 813.2,185.2 814.1,183.9 815.0,183.9 815.9,183.1 816.8,183.8 817.7,185.5 818.6,186.0 819.5,186.9 820.4,186.1 821.3,185.8 822.2,184.9 823.1,185.9 824.0,185.5 824.9,184.5 825.8,183.3 826.7,184.8 827.6,185.2 828.5,185.6 829.4,184.5 830.3,184.5 831.2,183.8 832.1,184.0 833.0,184.2 833.9,185.1 834.8,186.6 835.7,187.1 836.6,186.3 837.5,185.0 838.4,184.0 839.3,184.5 840.2,184.7 841.1,185.3 842.0,184.9 842.9,186.1 843.8,186.1 844.7,185.9 845.6,186.3 846.5,187.5 847.4,186.6 848.3,187.0 849.2,188.7 850.1,187.4 851.0,188.0 851.9,187.0 852.8,187.6 853.7,187.2 854.6,188.1 855.5,186.9 856.4,187.3 857.3,186.3 858.2,186.8 859.1,186.8 860.0,187.3 860.9,186.7 861.8,186.7 862.7,186.5 863.6,186.7 864.5,187.0 865.4,187.1 866.3,187.9 867.2,186.9 868.1,188.0 869.0,186.9 869.9,185.6 870.8,186.1 871.7,186.4 872.6,187.7 873.5,188.1 874.4,186.3 875.3,187.9 876.2,188.1 877.1,186.8 878.0,186.4 878.9,186.5 879.8,187.2 880.7,188.2 881.6,186.6 882.5,187.8 883.4,187.6 884.3,188.7 885.2,188.4 886.1,188.2 887.0,187.5 887.9,187.9 888.8,186.6 889.7,186.1 890.6,186.6 891.5,187.3 892.4,187.6 893.3,187.5 894.2,188.8 895.1,189.8 896.0,189.8 896.9,188.9 897.8,190.1 898.7,190.0 899.6,190.1 900.5,188.2 901.4,188.4 902.3,188.6 903.2,188.7 904.1,188.4 905.0,187.9 905.9,187.3 906.8,187.4 907.7,187.8 908.6,187.9 909.5,187.6 910.4,187.9 911.3,188.2 912.2,188.7 913.1,187.8 914.0,187.2 914.9,185.6 915.8,188.0 916.7,188.8 917.6,188.9 918.5,189.3 919.4,189.0 920.3,188.7 921.2,190.5 922.1,188.8 923.0,189.3 923.9,189.7 924.8,189.9 925.7,189.4 926.6,188.9 927.5,188.0 928.4,188.7 929.3,188.0 930.2,188.6 931.1,187.7 932.0,188.6 932.9,188.0 933.8,188.5 934.7,189.4 935.6,188.1 936.5,188.6 937.4,188.2 938.3,188.2 939.2,188.4 940.1,188.0 941.0,188.9 941.9,188.3 942.8,188.7 943.7,189.0 944.6,189.4 945.5,189.5 946.4,189.2 947.3,188.9 948.2,189.8 949.1,189.1 950.0,189.6 950.9,189.1" fill="none" stroke="#000" stroke-width="1.5" stroke-linejoin="round"/>
<g font-family="'Liberation Sans', Arial, Helvetica, sans-serif" font-size="27.3" fill="#000" text-anchor="end">
<text transform="translate(653.7,49.7) scale(1,1.055)">2</text>
<text transform="translate(653.7,125.2) scale(1,1.055)">0</text>
<text transform="translate(653.7,200.7) scale(1,1.055)"><tspan dy="-1.5">-</tspan><tspan dy="1.5">2</tspan></text>
</g>
<g font-family="'Liberation Serif', 'Times New Roman', Times, serif" font-size="41.5" fill="#000">
<text transform="translate(134.6,260.8) scale(1,1.022)">(a)</text>
<text transform="translate(333.6,260.8) scale(1,1.022)">(b) Without BN</text>
<text transform="translate(693.4,260.8) scale(1,1.022)">(c) With BN</text>
</g>
</svg>
<div class="ln" style="top:311.4px"><span>Figure</span><b style="width:16.72px"> </b><span>1:</span><b style="width:25.60px"> </b><span>(a)</span><b style="width:16.72px"> </b><i>The</i><b style="width:16.72px"> </b><i>test</i><b style="width:16.72px"> </b><i>accuracy</i><b style="width:16.72px"> </b><i>of</i><b style="width:16.72px"> </b><i>the</i><b style="width:16.72px"> </b><i>MNIST</i><b style="width:16.72px"> </b><i>network</i></div>
<div class="ln" style="top:360.7px"><i>trained</i><b style="width:16.73px"> </b><i>with</i><b style="width:16.73px"> </b><i>and</i><b style="width:16.73px"> </b><i>without</i><b style="width:16.73px"> </b><i>Batch</i><b style="width:16.73px"> </b><i>Normalization,</i><b style="width:18.33px"> </b><i>vs.</i><b style="width:32.01px"> </b><i>the</i></div>
<div class="ln" style="top:410.0px"><i>number</i><b style="width:12.45px"> </b><i>of</i><b style="width:12.45px"> </b><i>training</i><b style="width:12.45px"> </b><i>steps.</i><b style="width:19.18px"> </b><i>Batch</i><b style="width:12.45px"> </b><i>Normalization</i><b style="width:12.45px"> </b><i>helps</i><b style="width:12.45px"> </b><i>the</i></div>
<div class="ln" style="top:459.3px"><i>network</i><b style="width:17.95px"> </b><i>train</i><b style="width:17.95px"> </b><i>faster</i><b style="width:17.95px"> </b><i>and</i><b style="width:17.95px"> </b><i>achieve</i><b style="width:17.95px"> </b><i>higher</i><b style="width:17.95px"> </b><i>accuracy.</i><b style="width:35.67px"> </b><span>(b,</span></div>
<div class="ln" style="top:508.6px"><span>c)</span><b style="width:16.68px"> </b><i>The</i><b style="width:16.68px"> </b><i>evolution</i><b style="width:16.68px"> </b><i>of</i><b style="width:16.68px"> </b><i>input</i><b style="width:16.68px"> </b><i>distributions</i><b style="width:16.68px"> </b><i>to</i><b style="width:16.68px"> </b><i>a</i><b style="width:16.68px"> </b><i>typical</i><b style="width:16.68px"> </b><i>sig-</i></div>
<div class="ln" style="top:557.9px"><i>moid,</i><b style="width:8.95px"> </b><i>over</i><b style="width:8.61px"> </b><i>the</i><b style="width:8.61px"> </b><i>course</i><b style="width:8.61px"> </b><i>of</i><b style="width:8.61px"> </b><i>training,</i><b style="width:8.95px"> </b><i>shown</i><b style="width:8.61px"> </b><i>as</i><b style="width:8.61px"> </b><span class="m">{15, 50, 85}</span><i>th</i></div>
<div class="ln" style="top:607.2px"><i>percentiles.</i><b style="width:23.65px"> </b><i>Batch</i><b style="width:13.94px"> </b><i>Normalization</i><b style="width:13.94px"> </b><i>makes</i><b style="width:13.94px"> </b><i>the</i><b style="width:13.94px"> </b><i>distribution</i></div>
<div class="ln" style="top:656.5px"><i>more</i><b style="width:10.32px"> </b><i>stable</i><b style="width:10.32px"> </b><i>and</i><b style="width:10.32px"> </b><i>reduces</i><b style="width:10.32px"> </b><i>the</i><b style="width:10.32px"> </b><i>internal</i><b style="width:10.32px"> </b><i>covariate</i><b style="width:10.32px"> </b><i>shift.</i></div>
</div>
</body></html>
